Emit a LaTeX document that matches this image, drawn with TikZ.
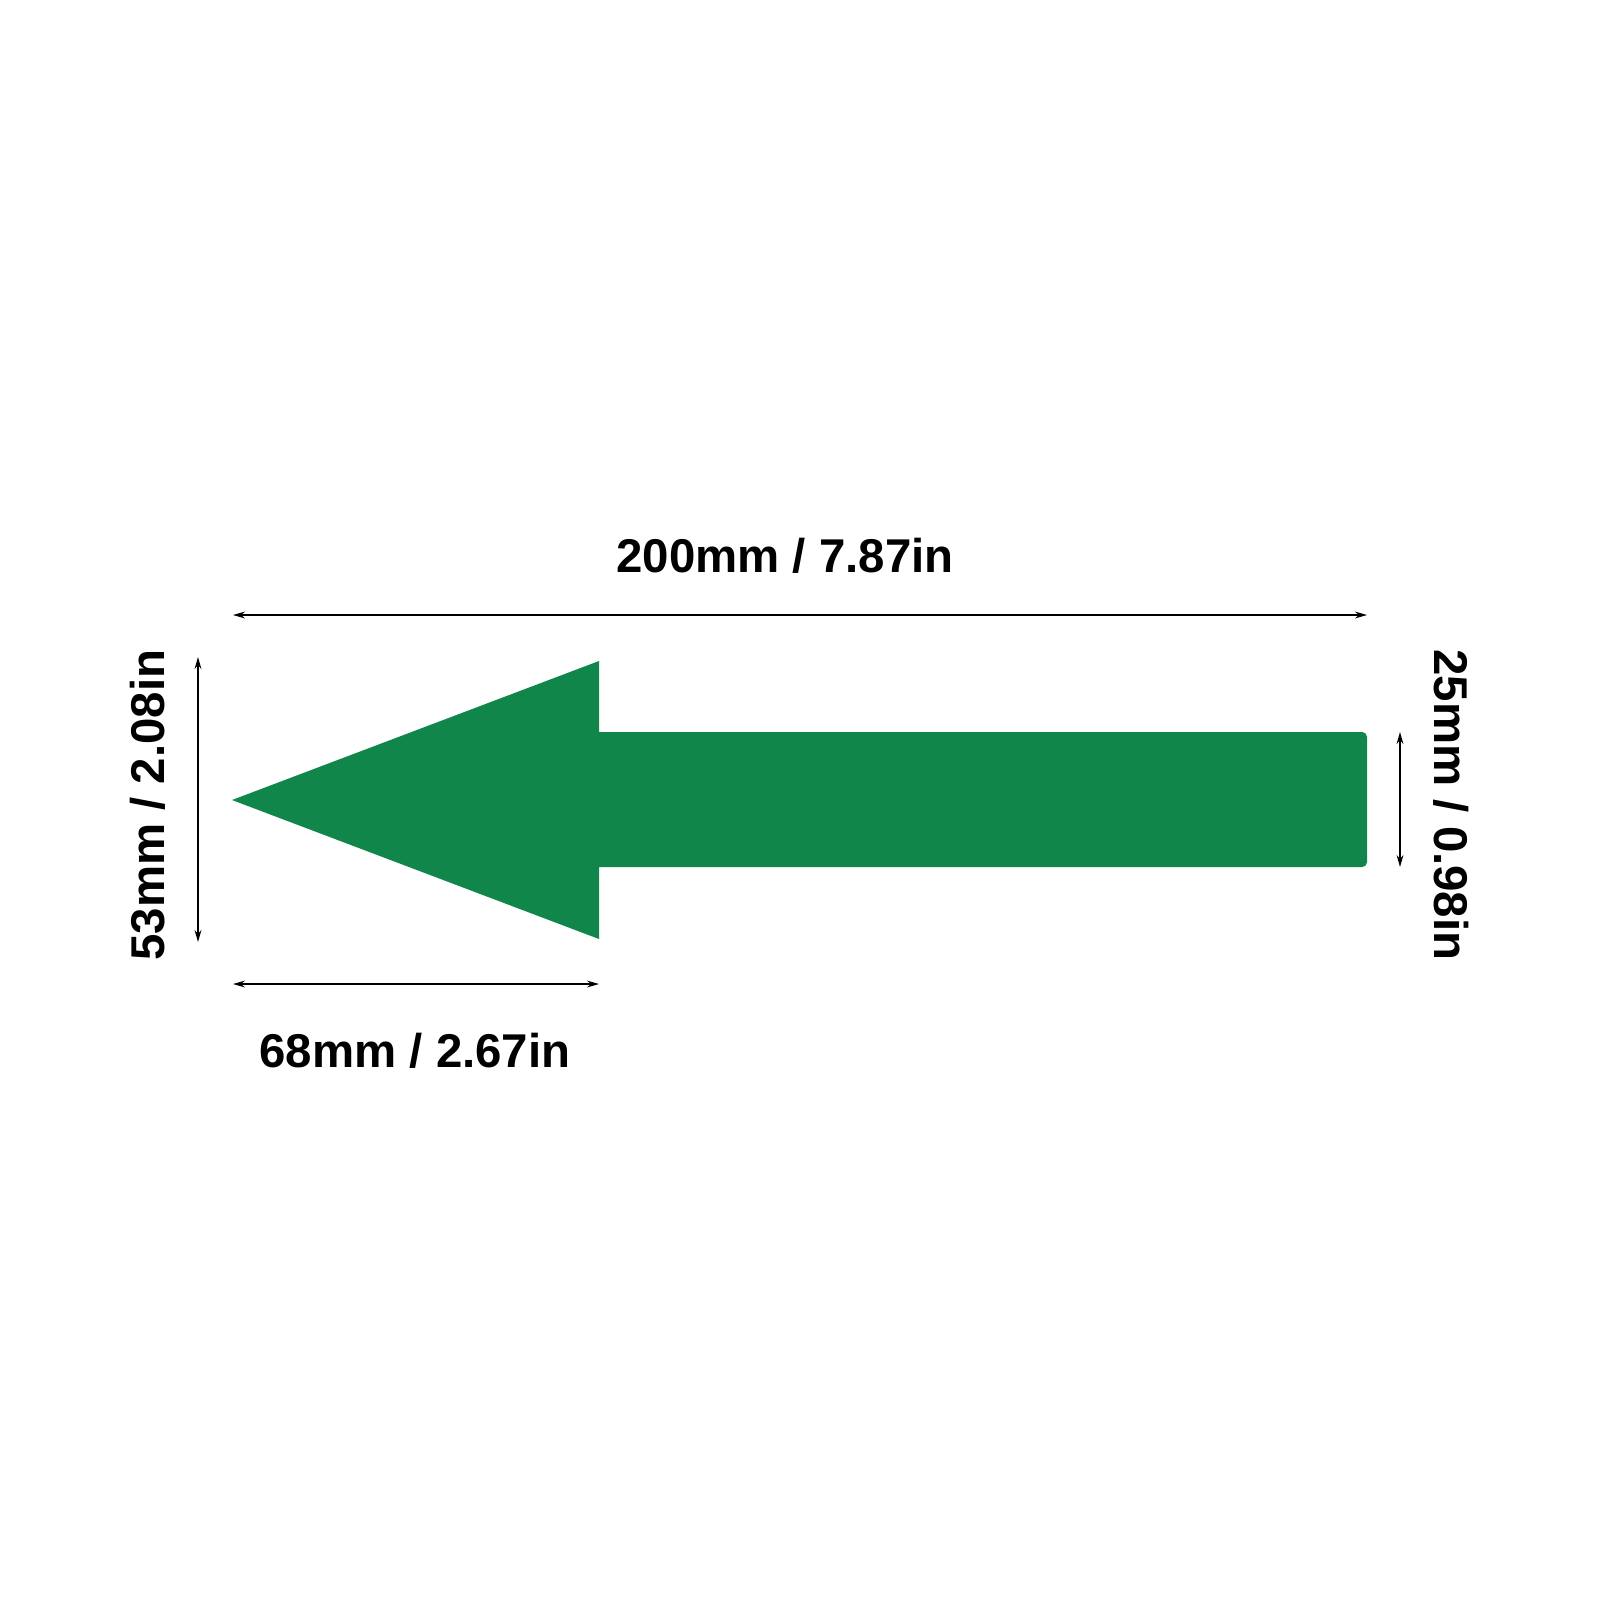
\documentclass[tikz,border=0pt]{standalone}
\usepackage{fontspec}
\setmainfont{Liberation Sans}
\usetikzlibrary{arrows.meta}
\definecolor{signgreen}{RGB}{17,134,75}
\tikzset{
  dimline/.style={line width=0.35pt, {Stealth[length=3pt,width=1.7pt]}-{Stealth[length=3pt,width=1.7pt]}},
  dimlabel/.style={font=\fontsize{11.85}{14}\selectfont\bfseries, inner sep=0pt, text=black}
}
\begin{document}
\begin{tikzpicture}[x=0.25pt,y=-0.25pt]
\useasboundingbox[fill=white] (0,0) rectangle (1600,1600);
% green arrow
\fill[signgreen] (232,800) -- (599,661) -- (599,732)
  [rounded corners=1.2pt] -- (1367,732) -- (1367,867)
  [sharp corners] -- (599,867) -- (599,939) -- cycle;
% dimension end points
\coordinate (tL) at (233,615);
\coordinate (tR) at (1367,615);
\coordinate (lT) at (198,657);
\coordinate (lB) at (198,942);
\coordinate (rT) at (1400,732);
\coordinate (rB) at (1400,867);
\coordinate (bL) at (233,984);
\coordinate (bR) at (599,984);
\draw[dimline] (tL) -- (tR);
\draw[dimline] (lT) -- (lB);
\draw[dimline] (rT) -- (rB);
\draw[dimline] (bL) -- (bR);
% labels
\node[dimlabel] (ttop) at (785,556) {200mm / 7.87in};
\node[dimlabel, rotate=90] (tleft) at (148,805) {53mm / 2.08in};
\node[dimlabel, rotate=-90] (tright) at (1451,805) {25mm / 0.98in};
\node[dimlabel] (tbot) at (415,1051) {68mm / 2.67in};
\end{tikzpicture}
\end{document}
